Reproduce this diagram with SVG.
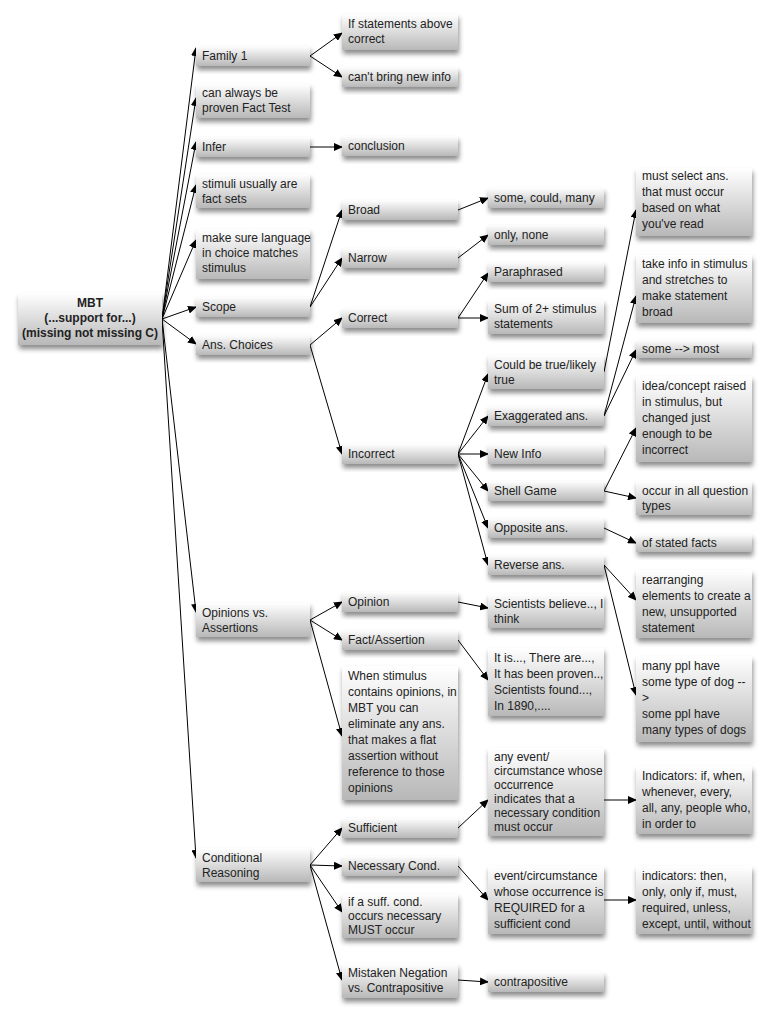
<svg xmlns="http://www.w3.org/2000/svg" width="768" height="1024" viewBox="0 0 768 1024">
<defs>
<linearGradient id="g" x1="0" y1="0" x2="0" y2="1"><stop offset="0" stop-color="#ffffff"/><stop offset="1" stop-color="#b8b8b8"/></linearGradient>
<filter id="sh" x="-10%" y="-20%" width="130%" height="160%"><feDropShadow dx="1" dy="4" stdDeviation="2.5" flood-color="#000" flood-opacity="0.45"/></filter>
<marker id="a" markerWidth="9" markerHeight="8" refX="8" refY="4" orient="auto" markerUnits="userSpaceOnUse"><path d="M0,0 L9,4 L0,8 z" fill="#000"/></marker>
<style>
.b{fill:url(#g);filter:url(#sh)}
text{font-family:"Liberation Sans Narrow","Liberation Sans",Arial,sans-serif;font-size:12px;fill:#222}
.r{font-weight:bold;text-anchor:middle}
#c line{stroke:#000;stroke-width:1;marker-end:url(#a)}
</style>
</defs>
<rect width="768" height="1024" fill="#fff"/>
<g id="c">
<line x1="162" y1="319" x2="196" y2="48"/><line x1="162" y1="319" x2="196" y2="98"/><line x1="162" y1="319" x2="196" y2="142"/><line x1="162" y1="319" x2="196" y2="185"/><line x1="162" y1="319" x2="196" y2="240"/><line x1="162" y1="319" x2="196" y2="307"/><line x1="162" y1="319" x2="196" y2="344"/><line x1="162" y1="319" x2="196" y2="612"/><line x1="162" y1="319" x2="196" y2="858"/>
<line x1="310" y1="56" x2="342" y2="33"/><line x1="310" y1="56" x2="342" y2="77"/><line x1="310" y1="147" x2="342" y2="147"/>
<line x1="310" y1="307" x2="342" y2="210"/><line x1="310" y1="307" x2="342" y2="258"/>
<line x1="310" y1="345" x2="342" y2="318"/><line x1="310" y1="345" x2="342" y2="454"/>
<line x1="310" y1="620" x2="342" y2="602"/><line x1="310" y1="620" x2="342" y2="640"/><line x1="310" y1="620" x2="342" y2="736"/>
<line x1="310" y1="865" x2="342" y2="828"/><line x1="310" y1="865" x2="342" y2="866"/><line x1="310" y1="865" x2="342" y2="912"/><line x1="310" y1="865" x2="342" y2="980"/>
<line x1="458" y1="210" x2="488" y2="198"/><line x1="458" y1="258" x2="488" y2="235"/>
<line x1="458" y1="318" x2="488" y2="273"/><line x1="458" y1="318" x2="488" y2="318"/>
<line x1="458" y1="454" x2="488" y2="374"/><line x1="458" y1="454" x2="488" y2="416"/><line x1="458" y1="454" x2="488" y2="454"/><line x1="458" y1="454" x2="488" y2="491"/><line x1="458" y1="454" x2="488" y2="528"/><line x1="458" y1="454" x2="488" y2="565"/>
<line x1="458" y1="602" x2="488" y2="608"/><line x1="458" y1="640" x2="488" y2="680"/>
<line x1="458" y1="828" x2="488" y2="800"/><line x1="458" y1="866" x2="488" y2="900"/><line x1="458" y1="980" x2="488" y2="982"/>
<line x1="604" y1="372" x2="636" y2="210"/><line x1="604" y1="416" x2="636" y2="296"/><line x1="604" y1="416" x2="636" y2="350"/>
<line x1="604" y1="491" x2="636" y2="428"/><line x1="604" y1="491" x2="636" y2="498"/><line x1="604" y1="528" x2="636" y2="543"/>
<line x1="604" y1="565" x2="636" y2="600"/><line x1="604" y1="565" x2="636" y2="695"/>
<line x1="604" y1="800" x2="636" y2="800"/><line x1="604" y1="900" x2="636" y2="900"/>
</g>
<g id="root"><rect class="b" x="18" y="293" width="144" height="52"/><text class="r" x="90" y="307">MBT</text><text class="r" x="90" y="322">(...support for...)</text><text class="r" x="90" y="337">(missing not missing C)</text></g>
<g id="n1"><rect class="b" x="196" y="46" width="114" height="20"/><text x="202" y="60">Family 1</text></g>
<g id="n2"><rect class="b" x="196" y="84" width="114" height="34"/><text x="202" y="97">can always be</text><text x="202" y="112">proven Fact Test</text></g>
<g id="n3"><rect class="b" x="196" y="137" width="114" height="20"/><text x="202" y="151">Infer</text></g>
<g id="n4"><rect class="b" x="196" y="174" width="114" height="34"/><text x="202" y="188">stimuli usually are</text><text x="202" y="203">fact sets</text></g>
<g id="n5"><rect class="b" x="196" y="229" width="114" height="50"/><text x="202" y="242">make sure language</text><text x="202" y="257">in choice matches</text><text x="202" y="272">stimulus</text></g>
<g id="n6"><rect class="b" x="196" y="297" width="114" height="20"/><text x="202" y="311">Scope</text></g>
<g id="n7"><rect class="b" x="196" y="335" width="114" height="20"/><text x="202" y="349">Ans. Choices</text></g>
<g id="n8"><rect class="b" x="196" y="603" width="114" height="34"/><text x="202" y="617">Opinions vs.</text><text x="202" y="632">Assertions</text></g>
<g id="n9"><rect class="b" x="196" y="848" width="114" height="34"/><text x="202" y="862">Conditional</text><text x="202" y="877">Reasoning</text></g>
<g id="m1"><rect class="b" x="342" y="14" width="116" height="36"/><text x="348" y="28">If statements above</text><text x="348" y="43">correct</text></g>
<g id="m2"><rect class="b" x="342" y="67" width="116" height="20"/><text x="348" y="81">can't bring new info</text></g>
<g id="m3"><rect class="b" x="342" y="136" width="116" height="20"/><text x="348" y="150">conclusion</text></g>
<g id="m4"><rect class="b" x="342" y="200" width="116" height="20"/><text x="348" y="214">Broad</text></g>
<g id="m5"><rect class="b" x="342" y="248" width="116" height="20"/><text x="348" y="262">Narrow</text></g>
<g id="m6"><rect class="b" x="342" y="308" width="116" height="20"/><text x="348" y="322">Correct</text></g>
<g id="m7"><rect class="b" x="342" y="444" width="116" height="20"/><text x="348" y="458">Incorrect</text></g>
<g id="m8"><rect class="b" x="342" y="592" width="116" height="20"/><text x="348" y="606">Opinion</text></g>
<g id="m9"><rect class="b" x="342" y="630" width="116" height="20"/><text x="348" y="644">Fact/Assertion</text></g>
<g id="m10"><rect class="b" x="342" y="666" width="116" height="134"/><text x="348" y="680">When stimulus</text><text x="348" y="696">contains opinions, in</text><text x="348" y="712">MBT you can</text><text x="348" y="728">eliminate any ans.</text><text x="348" y="744">that makes a flat</text><text x="348" y="760">assertion without</text><text x="348" y="776">reference to those</text><text x="348" y="792">opinions</text></g>
<g id="m11"><rect class="b" x="342" y="818" width="116" height="20"/><text x="348" y="832">Sufficient</text></g>
<g id="m12"><rect class="b" x="342" y="856" width="116" height="20"/><text x="348" y="870">Necessary Cond.</text></g>
<g id="m13"><rect class="b" x="342" y="894" width="116" height="44"/><text x="348" y="906">if a suff. cond.</text><text x="348" y="920">occurs necessary</text><text x="348" y="934">MUST occur</text></g>
<g id="m14"><rect class="b" x="342" y="964" width="116" height="34"/><text x="348" y="977">Mistaken Negation</text><text x="348" y="992">vs. Contrapositive</text></g>
<g id="p1"><rect class="b" x="488" y="188" width="116" height="20"/><text x="494" y="202">some, could, many</text></g>
<g id="p2"><rect class="b" x="488" y="225" width="116" height="20"/><text x="494" y="239">only, none</text></g>
<g id="p3"><rect class="b" x="488" y="262" width="116" height="20"/><text x="494" y="276">Paraphrased</text></g>
<g id="p4"><rect class="b" x="488" y="300" width="116" height="34"/><text x="494" y="313">Sum of 2+ stimulus</text><text x="494" y="328">statements</text></g>
<g id="p5"><rect class="b" x="488" y="355" width="116" height="34"/><text x="494" y="369">Could be true/likely</text><text x="494" y="384">true</text></g>
<g id="p6"><rect class="b" x="488" y="406" width="116" height="20"/><text x="494" y="420">Exaggerated ans.</text></g>
<g id="p7"><rect class="b" x="488" y="444" width="116" height="20"/><text x="494" y="458">New Info</text></g>
<g id="p8"><rect class="b" x="488" y="481" width="116" height="20"/><text x="494" y="495">Shell Game</text></g>
<g id="p9"><rect class="b" x="488" y="518" width="116" height="20"/><text x="494" y="532">Opposite ans.</text></g>
<g id="p10"><rect class="b" x="488" y="555" width="116" height="20"/><text x="494" y="569">Reverse ans.</text></g>
<g id="p11"><rect class="b" x="488" y="594" width="116" height="34"/><text x="494" y="608">Scientists believe.., I</text><text x="494" y="623">think</text></g>
<g id="p12"><rect class="b" x="488" y="648" width="116" height="68"/><text x="494" y="662">It is..., There are...,</text><text x="494" y="678">It has been proven..,</text><text x="494" y="694">Scientists found...,</text><text x="494" y="710">In 1890,....</text></g>
<g id="p13"><rect class="b" x="488" y="748" width="116" height="88"/><text x="494" y="761">any event/</text><text x="494" y="775">circumstance whose</text><text x="494" y="789">occurrence</text><text x="494" y="803">indicates that a</text><text x="494" y="817">necessary condition</text><text x="494" y="831">must occur</text></g>
<g id="p14"><rect class="b" x="488" y="866" width="116" height="68"/><text x="494" y="880">event/circumstance</text><text x="494" y="896">whose occurrence is</text><text x="494" y="912">REQUIRED for a</text><text x="494" y="928">sufficient cond</text></g>
<g id="p15"><rect class="b" x="488" y="972" width="116" height="20"/><text x="494" y="986">contrapositive</text></g>
<g id="q1"><rect class="b" x="636" y="168" width="116" height="68"/><text x="642" y="180">must select ans.</text><text x="642" y="196">that must occur</text><text x="642" y="212">based on what</text><text x="642" y="228">you've read</text></g>
<g id="q2"><rect class="b" x="636" y="255" width="116" height="68"/><text x="642" y="268">take info in stimulus</text><text x="642" y="284">and stretches to</text><text x="642" y="300">make statement</text><text x="642" y="316">broad</text></g>
<g id="q3"><rect class="b" x="636" y="340" width="116" height="18"/><text x="642" y="353">some --&gt; most</text></g>
<g id="q4"><rect class="b" x="636" y="376" width="116" height="86"/><text x="642" y="390">idea/concept raised</text><text x="642" y="406">in stimulus, but</text><text x="642" y="422">changed just</text><text x="642" y="438">enough to be</text><text x="642" y="454">incorrect</text></g>
<g id="q5"><rect class="b" x="636" y="481" width="116" height="34"/><text x="642" y="495">occur in all question</text><text x="642" y="510">types</text></g>
<g id="q6"><rect class="b" x="636" y="534" width="116" height="18"/><text x="642" y="547">of stated facts</text></g>
<g id="q7"><rect class="b" x="636" y="570" width="116" height="68"/><text x="642" y="584">rearranging</text><text x="642" y="600">elements to create a</text><text x="642" y="616">new, unsupported</text><text x="642" y="632">statement</text></g>
<g id="q8"><rect class="b" x="636" y="656" width="116" height="86"/><text x="642" y="670">many ppl have</text><text x="642" y="686">some type of dog --</text><text x="642" y="702">&gt;</text><text x="642" y="718">some ppl have</text><text x="642" y="734">many types of dogs</text></g>
<g id="q9"><rect class="b" x="636" y="766" width="116" height="68"/><text x="642" y="780">Indicators: if, when,</text><text x="642" y="796">whenever, every,</text><text x="642" y="812">all, any, people who,</text><text x="642" y="828">in order to</text></g>
<g id="q10"><rect class="b" x="636" y="866" width="116" height="68"/><text x="642" y="880">indicators: then,</text><text x="642" y="896">only, only if, must,</text><text x="642" y="912">required, unless,</text><text x="642" y="928">except, until, without</text></g>
</svg>
